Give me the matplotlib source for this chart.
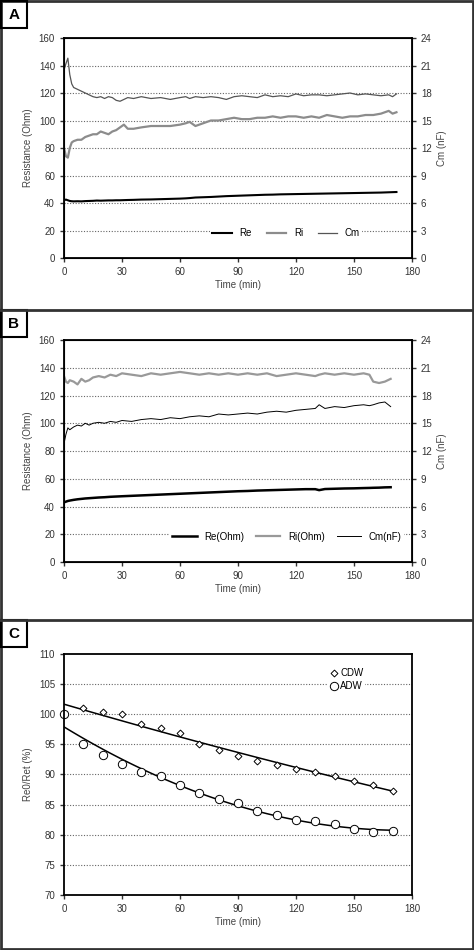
import numpy as np
import matplotlib.pyplot as plt
from matplotlib.patches import Rectangle

# Panel A
tA = [0,1,2,3,4,5,7,9,11,13,15,17,19,21,23,25,27,29,31,33,36,40,45,50,55,60,63,65,68,72,76,80,84,88,92,96,100,104,108,112,116,120,124,128,132,136,140,144,148,152,156,160,164,168,170,172]
reA = [42,42.5,42,41.5,41.3,41.2,41.3,41.2,41.4,41.5,41.6,41.8,41.7,41.8,41.9,41.9,42,42,42.1,42.2,42.3,42.5,42.6,42.8,43,43.2,43.4,43.6,44,44.2,44.4,44.7,45,45.2,45.4,45.6,45.8,46,46.1,46.3,46.4,46.5,46.6,46.7,46.8,46.9,47,47.1,47.2,47.3,47.4,47.5,47.6,47.8,47.9,48]
riA = [80,74,73,80,84,85,86,86,88,89,90,90,92,91,90,92,93,95,97,94,94,95,96,96,96,97,98,99,96,98,100,100,101,102,101,101,102,102,103,102,103,103,102,103,102,104,103,102,103,103,104,104,105,107,105,106]
cmA = [20.5,21.2,21.8,20,19,18.6,18.4,18.2,18,17.8,17.6,17.5,17.6,17.4,17.6,17.5,17.2,17.1,17.3,17.5,17.4,17.6,17.4,17.5,17.3,17.5,17.6,17.4,17.6,17.5,17.6,17.5,17.3,17.6,17.7,17.6,17.5,17.8,17.6,17.7,17.6,17.9,17.7,17.8,17.8,17.7,17.8,17.9,18,17.8,17.9,17.8,17.7,17.8,17.6,17.9]

# Panel B
tB = [0,1,2,3,5,7,9,11,13,15,18,21,24,27,30,35,40,45,50,55,60,65,70,75,80,85,90,95,100,105,110,115,120,125,130,132,135,140,145,150,155,158,160,163,166,169]
reB = [43,43.5,44,44.3,44.8,45.2,45.5,45.8,46,46.2,46.5,46.7,47,47.2,47.4,47.7,48,48.3,48.6,48.9,49.2,49.5,49.8,50.1,50.4,50.7,51,51.2,51.5,51.7,51.9,52.1,52.3,52.5,52.5,51.8,52.6,52.8,53,53.1,53.3,53.4,53.5,53.6,53.8,53.9]
riB = [134,130,129,131,130,128,132,130,131,133,134,133,135,134,136,135,134,136,135,136,137,136,135,136,135,136,135,136,135,136,134,135,136,135,134,135,136,135,136,135,136,135,130,129,130,132]
cmB = [12.8,13.8,14.5,14.3,14.6,14.8,14.7,15,14.8,15,15.1,15,15.2,15.1,15.3,15.2,15.4,15.5,15.4,15.6,15.5,15.7,15.8,15.7,16,15.9,16,16.1,16,16.2,16.3,16.2,16.4,16.5,16.6,17,16.6,16.8,16.7,16.9,17,16.9,17,17.2,17.3,16.8]

# Panel C
tC = [0,10,20,30,40,50,60,70,80,90,100,110,120,130,140,150,160,170]
cdw = [100,101,100.4,100,98.4,97.7,96.9,95,94,93,92.3,91.6,90.9,90.4,89.8,89,88.3,87.3]
adw = [100,95,93.3,91.7,90.4,89.7,88.3,87,86,85.2,84,83.3,82.5,82.2,81.7,81,80.4,80.6]

plt.rcParams['font.family'] = ['Liberation Sans', 'DejaVu Sans']
plt.rcParams['font.size'] = 7
fig = plt.figure(figsize=(4.74, 9.5), dpi=100)

def style(ax, yt):
    ax.set_xlim(0, 180); ax.set_xticks(range(0, 181, 30))
    ax.set_yticks(yt)
    for y in yt[1:-1]:
        ax.axhline(y, color='#666666', ls=(0, (1, 1.5)), lw=0.8, zorder=0)
    for s in ax.spines.values():
        s.set_linewidth(1.3)
    ax.tick_params(colors='#333333', labelcolor='#333333', length=3, width=1)
    ax.set_xlabel('Time (min)', color='#444444', labelpad=2)

# A
axA = fig.add_axes([0.135, 0.7284, 0.734, 0.2316])
style(axA, list(range(0, 161, 20)))
axA.set_ylim(0, 160)
axA2 = axA.twinx(); axA2.set_ylim(0, 24); axA2.set_yticks(range(0, 25, 3))
axA2.tick_params(colors='#333333', length=3, width=1)
l1, = axA.plot(tA, reA, color='black', lw=1.5)
l2, = axA.plot(tA, riA, color='#8c8c8c', lw=1.6)
l3, = axA2.plot(tA, cmA, color='#555555', lw=0.9)
axA.set_ylabel('Resistance (Ohm)', color='#444444')
axA2.set_ylabel('Cm (nF)', color='#444444')
axA2.legend([l1, l2, l3], ['Re', 'Ri', 'Cm'], ncol=3, loc='lower right', bbox_to_anchor=(0.87, 0.06),
            frameon=True, framealpha=1, edgecolor='none', fancybox=False, handlelength=2, columnspacing=1.5, borderpad=0.2)

# B
axB = fig.add_axes([0.135, 0.4084, 0.734, 0.2337])
style(axB, list(range(0, 161, 20)))
axB.set_ylim(0, 160)
axB2 = axB.twinx(); axB2.set_ylim(0, 24); axB2.set_yticks(range(0, 25, 3))
axB2.tick_params(colors='#333333', length=3, width=1)
m1, = axB.plot(tB, reB, color='black', lw=1.8)
m2, = axB.plot(tB, riB, color='#999999', lw=1.6)
m3, = axB2.plot(tB, cmB, color='black', lw=0.7)
axB.set_ylabel('Resistance (Ohm)', color='#444444')
axB2.set_ylabel('Cm (nF)', color='#444444')
axB2.legend([m1, m2, m3], ['Re(Ohm)', 'Ri(Ohm)', 'Cm(nF)'], ncol=3, loc='lower right', bbox_to_anchor=(0.99, 0.06),
            frameon=True, framealpha=1, edgecolor='none', fancybox=False, handlelength=2.5, columnspacing=1.2, borderpad=0.2)

# C
axC = fig.add_axes([0.135, 0.0579, 0.734, 0.2537])
style(axC, list(range(70, 111, 5)))
axC.set_ylim(70, 110)
tt = np.linspace(0, 170, 100)
axC.plot(tt, np.polyval(np.polyfit(tC, cdw, 2), tt), color='black', lw=1.1)
axC.plot(tt, np.polyval(np.polyfit(tC, adw, 2), tt), color='black', lw=1.1)
axC.plot(tC, cdw, 'D', ms=3.5, mfc='white', mec='black', mew=0.7, ls='none', label='CDW', clip_on=False)
axC.plot(tC, adw, 'o', ms=6, mfc='white', mec='black', mew=0.7, ls='none', label='ADW', clip_on=False)
axC.set_ylabel('Re0/Ret (%)', color='#444444')
axC.legend(loc='upper right', bbox_to_anchor=(0.88, 0.97), frameon=True, framealpha=1, edgecolor='none',
           handletextpad=0.1, borderpad=0.2, labelspacing=0.3, handlelength=1)

# frame and panel labels
ov = fig.add_axes([0, 0, 1, 1]); ov.set_xlim(0, 474); ov.set_ylim(950, 0); ov.axis('off')
ov.add_patch(Rectangle((1, 1), 472, 948, fill=False, lw=2, ec='#333333'))
for y in (310, 620):
    ov.plot([0, 474], [y, y], color='#333333', lw=2)
for lab, y0 in (('A', 1), ('B', 310), ('C', 620)):
    ov.add_patch(Rectangle((1, y0), 26, 27, fill=False, lw=1.5, ec='black'))
    ov.text(14, y0 + 14, lab, ha='center', va='center', fontsize=11, fontweight='bold')
fig.savefig('out.png', dpi=100)
